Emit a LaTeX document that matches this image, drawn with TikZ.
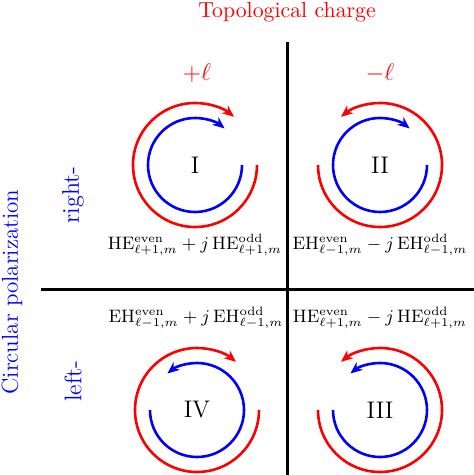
\documentclass[tikz,border=0pt]{standalone}
\usetikzlibrary{arrows.meta}
\begin{document}
\begin{tikzpicture}[x=0.5pt,y=0.5pt,
  divider/.style={line width=1.5pt,black},
  redarc/.style={line width=1.3pt,red,-{Stealth[length=6pt,width=5pt]}},
  bluearc/.style={line width=1.3pt,blue,-{Stealth[length=6pt,width=5pt]}},
  numlabel/.style={font=\large},
  redlabel/.style={text=red},
  bluelabel/.style={text=blue,rotate=90},
  formula/.style={inner sep=0pt,font=\fontsize{9}{11}\selectfont}]
\useasboundingbox (0,0) rectangle (474,-475);
% axes
\coordinate (vtop) at (287,-42);
\coordinate (vbot) at (287,-475);
\coordinate (hl) at (41,-289);
\coordinate (hr) at (474,-289);
\draw[divider] (vtop) -- (vbot);
\draw[divider] (hl) -- (hr);
% centers
\coordinate (c1) at (195,-165);
\coordinate (c2) at (380,-165);
\coordinate (c3) at (380,-410);
\coordinate (c4) at (197,-410);
% quadrant I
\draw[redarc] ([shift={(0:31pt)}]c1) arc[start angle=0,end angle=-309,radius=31pt];
\draw[bluearc] ([shift={(0:23.5pt)}]c1) arc[start angle=0,end angle=-309,radius=23.5pt];
% quadrant II
\draw[redarc] ([shift={(180:31pt)}]c2) arc[start angle=180,end angle=489,radius=31pt];
\draw[bluearc] ([shift={(0:23.5pt)}]c2) arc[start angle=0,end angle=-309,radius=23.5pt];
% quadrant III
\draw[redarc] ([shift={(180:31pt)}]c3) arc[start angle=180,end angle=489,radius=31pt];
\draw[bluearc] ([shift={(180:23.5pt)}]c3) arc[start angle=180,end angle=489,radius=23.5pt];
% quadrant IV
\draw[redarc] ([shift={(0:31pt)}]c4) arc[start angle=0,end angle=-309,radius=31pt];
\draw[bluearc] ([shift={(180:23.5pt)}]c4) arc[start angle=180,end angle=489,radius=23.5pt];
% numerals
\node[numlabel] (n1) at (c1) {I};
\node[numlabel] (n2) at (c2) {II};
\node[numlabel] (n3) at (c3) {III};
\node[numlabel] (n4) at (c4) {IV};
% top labels
\node[redlabel,font=\fontsize{10.9}{13}\selectfont] (title) at (287,-12) {Topological charge};
\node[redlabel,font=\large] (lp) at (197,-73) {$+\ell$};
\node[redlabel,font=\large] (lm) at (380,-73) {$-\ell$};
% side labels
\node[bluelabel,font=\fontsize{11.5}{14}\selectfont] (cp) at (12,-292) {Circular polarization};
\node[bluelabel,font=\large] (rt) at (73,-195) {right-};
\node[bluelabel,font=\large] (lt) at (73,-381) {left-};
% formulas
\node[formula] (f1) at (195,-245) {$\mathrm{HE}^{\mathrm{even}}_{\ell+1,m}+j\,\mathrm{HE}^{\mathrm{odd}}_{\ell+1,m}$};
\node[formula] (f2) at (380,-245) {$\mathrm{EH}^{\mathrm{even}}_{\ell-1,m}-j\,\mathrm{EH}^{\mathrm{odd}}_{\ell-1,m}$};
\node[formula] (f4) at (196,-318) {$\mathrm{EH}^{\mathrm{even}}_{\ell-1,m}+j\,\mathrm{EH}^{\mathrm{odd}}_{\ell-1,m}$};
\node[formula] (f3) at (380,-318) {$\mathrm{HE}^{\mathrm{even}}_{\ell+1,m}-j\,\mathrm{HE}^{\mathrm{odd}}_{\ell+1,m}$};
\end{tikzpicture}
\end{document}
